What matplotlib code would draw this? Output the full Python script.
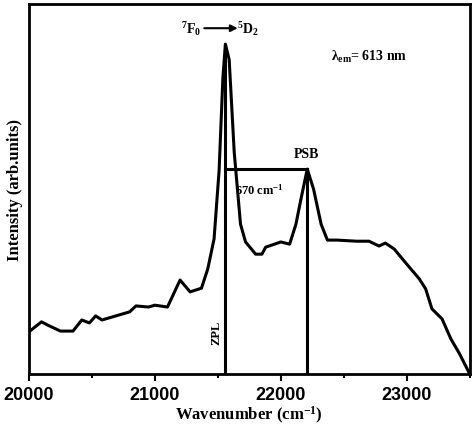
import matplotlib
matplotlib.use("Agg")
import matplotlib.pyplot as plt
from matplotlib.ticker import MultipleLocator

plt.rcParams["font.family"] = "Liberation Serif"
plt.rcParams["font.weight"] = "bold"
plt.rcParams["axes.labelweight"] = "bold"
plt.rcParams["mathtext.fontset"] = "custom"
plt.rcParams["mathtext.rm"] = "Liberation Serif:bold"
plt.rcParams["mathtext.it"] = "Liberation Serif:bold"

wavenumber = [20000, 20100, 20150, 20250, 20350, 20420, 20480, 20530, 20580, 20800,
              20850, 20950, 21000, 21100, 21200, 21280, 21370, 21420, 21470, 21510,
              21540, 21560, 21590, 21630, 21680, 21720, 21800, 21850, 21880, 21950,
              22000, 22070, 22120, 22160, 22210, 22260, 22320, 22370, 22450, 22600,
              22700, 22780, 22830, 22900, 23000, 23100, 23150, 23200, 23280, 23350,
              23420, 23500]
intensity = [11.4, 14.1, 13.2, 11.6, 11.6, 14.6, 13.8, 15.7, 14.6, 16.8,
             18.4, 18.1, 18.6, 18.1, 25.4, 22.2, 23.2, 28.4, 36.5, 55.0,
             80.0, 89.2, 85.0, 60.0, 40.5, 35.7, 32.4, 32.4, 34.3, 35.1,
             35.7, 35.1, 40.5, 47.3, 55.4, 50.0, 40.5, 36.2, 36.2, 35.9,
             35.9, 34.6, 35.4, 33.8, 29.7, 25.7, 23.0, 17.6, 14.9, 9.5,
             5.4, 0.0]
zpl_x, psb_x, psb_y = 21560, 22210, 55.4

fig = plt.figure(figsize=(4.74, 4.31), dpi=100)
ax = fig.add_axes([0.061, 0.13, 0.93, 0.858])
ax.plot(wavenumber, intensity, color="black", lw=2.2)
ax.plot([zpl_x, zpl_x], [0, 89], color="black", lw=2.2)
ax.plot([psb_x, psb_x], [0, psb_y], color="black", lw=2.2)
ax.plot([zpl_x, psb_x], [psb_y, psb_y], color="black", lw=2.2)

ax.annotate("", xy=(21680, 93.5), xytext=(21370, 93.5),
            arrowprops=dict(arrowstyle="-|>", color="black", lw=1.5))
ax.text(21370, 93.5, r"$^{7}$F$_{0}$", ha="right", va="center", fontsize=10)
ax.text(21650, 93.5, r"$^{5}$D$_{2}$", ha="left", va="center", fontsize=10)
ax.text(22400, 85, r"$\lambda_{em}$= 613 nm", fontsize=10)
ax.text(psb_x - 10, psb_y + 2.5, "PSB", ha="center", va="bottom", fontsize=10)
ax.text(21640, psb_y - 5.5, r"670 cm$^{-1}$", ha="left", va="center", fontsize=9)
ax.text(zpl_x - 25, 8, "ZPL", rotation=90, ha="right", va="bottom", fontsize=9)

ax.set_xlim(20000, 23500)
ax.set_ylim(0, 100)
ax.xaxis.set_major_locator(MultipleLocator(1000))
ax.xaxis.set_minor_locator(MultipleLocator(500))
ax.tick_params(axis="x", which="major", length=5, width=1.5, labelsize=13)
ax.tick_params(axis="x", which="minor", length=3, width=1.5)
for lab in ax.get_xticklabels():
    lab.set_family("Liberation Sans")
    lab.set_weight("bold")
ax.set_yticks([])
for s in ax.spines.values():
    s.set_linewidth(2)
ax.set_xlabel(r"Wavenumber (cm$^{-1}$)", fontsize=12, labelpad=1)
ax.set_ylabel("Intensity (arb.units)", fontsize=12, labelpad=4)

fig.savefig("out.png", dpi=100)
